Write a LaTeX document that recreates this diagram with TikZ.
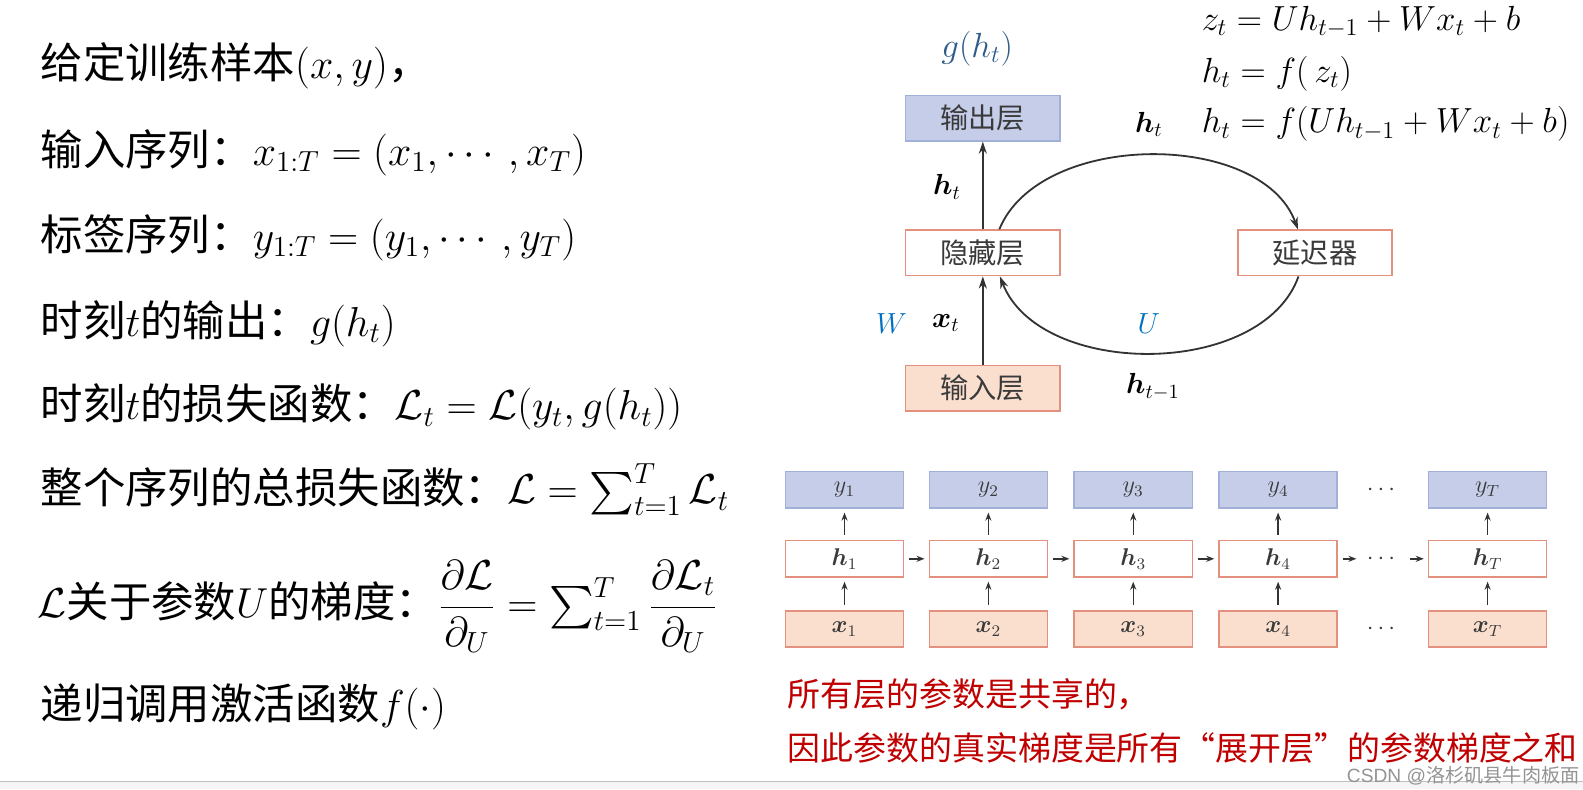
\documentclass[tikz,border=0pt]{standalone}
\usepackage{amsmath,amssymb}
\usepackage{fontspec}
\newfontfamily\cjk{Noto Sans CJK SC}
\newfontfamily\wmfont{Liberation Sans}
\usetikzlibrary{arrows.meta}
\definecolor{bfill}{HTML}{C5CDE9}
\definecolor{bdraw}{HTML}{A2AFD8}
\definecolor{pfill}{HTML}{FADFCF}
\definecolor{pdraw}{HTML}{E3917E}
\definecolor{gblue}{HTML}{2E5C8A}
\definecolor{lblue}{HTML}{0070C0}
\definecolor{dred}{HTML}{C00000}
\definecolor{txt}{HTML}{3A3A3A}
\tikzset{
  lefttext/.style={anchor=base west,inner sep=0pt,font=\fontsize{21}{25}\selectfont},
  bigbox/.style={draw,line width=0.8pt,minimum width=76.5pt,minimum height=22.5pt,inner sep=0pt,font=\fontsize{14}{16}\selectfont\cjk,text=txt},
  outbox/.style={bigbox,fill=bfill,draw=bdraw},
  hidbox/.style={bigbox,fill=white,draw=pdraw},
  inbox/.style={bigbox,fill=pfill,draw=pdraw},
  smallbox/.style={draw,line width=0.7pt,minimum width=58.5pt,minimum height=18pt,inner sep=0pt,font=\fontsize{12}{14}\selectfont,text=txt},
  ybox/.style={smallbox,fill=bfill,draw=bdraw},
  hbox/.style={smallbox,fill=white,draw=pdraw},
  xbox/.style={smallbox,fill=pfill,draw=pdraw},
  bigarrow/.style={-{Stealth[length=6pt,width=4pt]},line width=0.9pt,draw=black!80},
  smallarrow/.style={-{Stealth[length=4pt,width=3pt]},line width=0.7pt,draw=black!80,shorten <=2.5pt,shorten >=2pt},
  lbl/.style={inner sep=0pt,font=\fontsize{14}{16}\selectfont},
  fml/.style={anchor=west,inner sep=0pt,font=\fontsize{17}{20}\selectfont},
  redtext/.style={anchor=base west,inner sep=0pt,text=dred,font=\fontsize{16.3}{19}\selectfont\cjk},
  dotsnode/.style={inner sep=0pt,font=\fontsize{12}{14}\selectfont,text=txt}
}
\begin{document}
\begin{tikzpicture}[x=0.5pt,y=-0.5pt]
\useasboundingbox (0,0) rectangle (1568,782);
\fill[white] (0,0) rectangle (1568,782);
% bottom strip
\fill[black!4] (0,774) rectangle (1568,782);
\draw[black!25,line width=0.6pt] (0,774) -- (1568,774);

% ---------- left text ----------
\node[lefttext] (l1) at (40,78) {{\cjk 给定训练样本}$(x,y)${\cjk ，}};
\node[lefttext] (l2) at (40,164) {{\cjk 输入序列：}$x_{1{:}T}=(x_1,\cdots,x_T)$};
\node[lefttext] (l3) at (40,248) {{\cjk 标签序列：}$y_{1{:}T}=(y_1,\cdots,y_T)$};
\node[lefttext] (l4) at (40,333) {{\cjk 时刻}$t${\cjk 的输出：}$g(h_t)$};
\node[lefttext] (l5) at (40,416) {{\cjk 时刻}$t${\cjk 的损失函数：}$\mathcal{L}_t=\mathcal{L}(y_t,g(h_t))$};
\node[lefttext] (l6) at (40,499) {{\cjk 整个序列的总损失函数：}$\mathcal{L}=\sum_{t=1}^{T}\mathcal{L}_t$};
\node[lefttext] (l7) at (37,612) {$\mathcal{L}${\cjk 关于参数}$U${\cjk 的梯度：}$\dfrac{\partial\mathcal{L}}{\partial_U}=\sum_{t=1}^{T}\dfrac{\partial\mathcal{L}_t}{\partial_U}$};
\node[lefttext] (l8) at (40,713) {{\cjk 递归调用激活函数}$f(\cdot)$};

% ---------- folded RNN ----------
\node[outbox] (out) at (973.5,117) {输出层};
\node[hidbox] (hid) at (973.5,250.5) {隐藏层};
\node[hidbox] (delay) at (1302.5,250.5) {延迟器};
\node[inbox] (inp) at (973.5,384.5) {输入层};

\draw[bigarrow] (hid.north) -- (out.south);
\draw[bigarrow] (inp.north) -- (hid.south);
\draw[bigarrow] (hid.55) .. controls (1030,129) and (1250,129) .. (delay.126);
\draw[bigarrow] (delay.-125) .. controls (1250,375) and (1030,375) .. (hid.-54);

\node[lbl,text=gblue,font=\fontsize{17}{20}\selectfont] (g) at (968,48) {$g(h_t)$};
\node[lbl] (ht1) at (938,185) {$\boldsymbol{h}_t$};
\node[lbl,text=lblue] (W) at (883,320) {$W$};
\node[lbl] (xt) at (937,320) {$\boldsymbol{x}_t$};
\node[lbl] (ht2) at (1138,123) {$\boldsymbol{h}_t$};
\node[lbl,text=lblue] (U) at (1138,320) {$U$};
\node[lbl] (htm) at (1142,383) {$\boldsymbol{h}_{t-1}$};

\node[fml] (f1) at (1190,22) {$z_t=Uh_{t-1}+Wx_t+b$};
\node[fml] (f2) at (1190,73) {$h_t=f(\,z_t)$};
\node[fml] (f3) at (1190,123) {$h_t=f(Uh_{t-1}+Wx_t+b)$};

% ---------- unrolled RNN ----------
\foreach \i/\cx/\s in {1/836.5/1,2/979/2,3/1122.5/3,4/1266/4,T/1473.5/T}{
  \node[ybox] (y\i) at (\cx,485) {$y_{\s}$};
  \node[hbox] (h\i) at (\cx,553.5) {$\boldsymbol{h}_{\s}$};
  \node[xbox] (x\i) at (\cx,623) {$\boldsymbol{x}_{\s}$};
  \draw[smallarrow] (h\i.north) -- (y\i.south);
  \draw[smallarrow] (x\i.north) -- (h\i.south);
}
\node[dotsnode] (ydots) at (1370,485) {$\cdots$};
\node[dotsnode] (hdots) at (1370,553.5) {$\cdots$};
\node[dotsnode] (xdots) at (1370,623) {$\cdots$};
\draw[smallarrow] (h1.east) -- (h2.west);
\draw[smallarrow] (h2.east) -- (h3.west);
\draw[smallarrow] (h3.east) -- (h4.west);
\draw[smallarrow,shorten >=5pt] (h4.east) -- (hdots.west);
\draw[smallarrow,shorten <=5pt] (hdots.east) -- (hT.west);

% ---------- red notes ----------
\node[redtext] (r1) at (780,700) {所有层的参数是共享的，};
\node[redtext] (r2) at (780,753) {因此参数的真实梯度是所有“展开层”的参数梯度之和};

% watermark
\node[anchor=east,inner sep=0pt,text=black!42,font=\fontsize{9.5}{11}\selectfont\wmfont] (wm) at (1565,768) {CSDN @{\cjk 洛杉矶县牛肉板面}};
\end{tikzpicture}
\end{document}
